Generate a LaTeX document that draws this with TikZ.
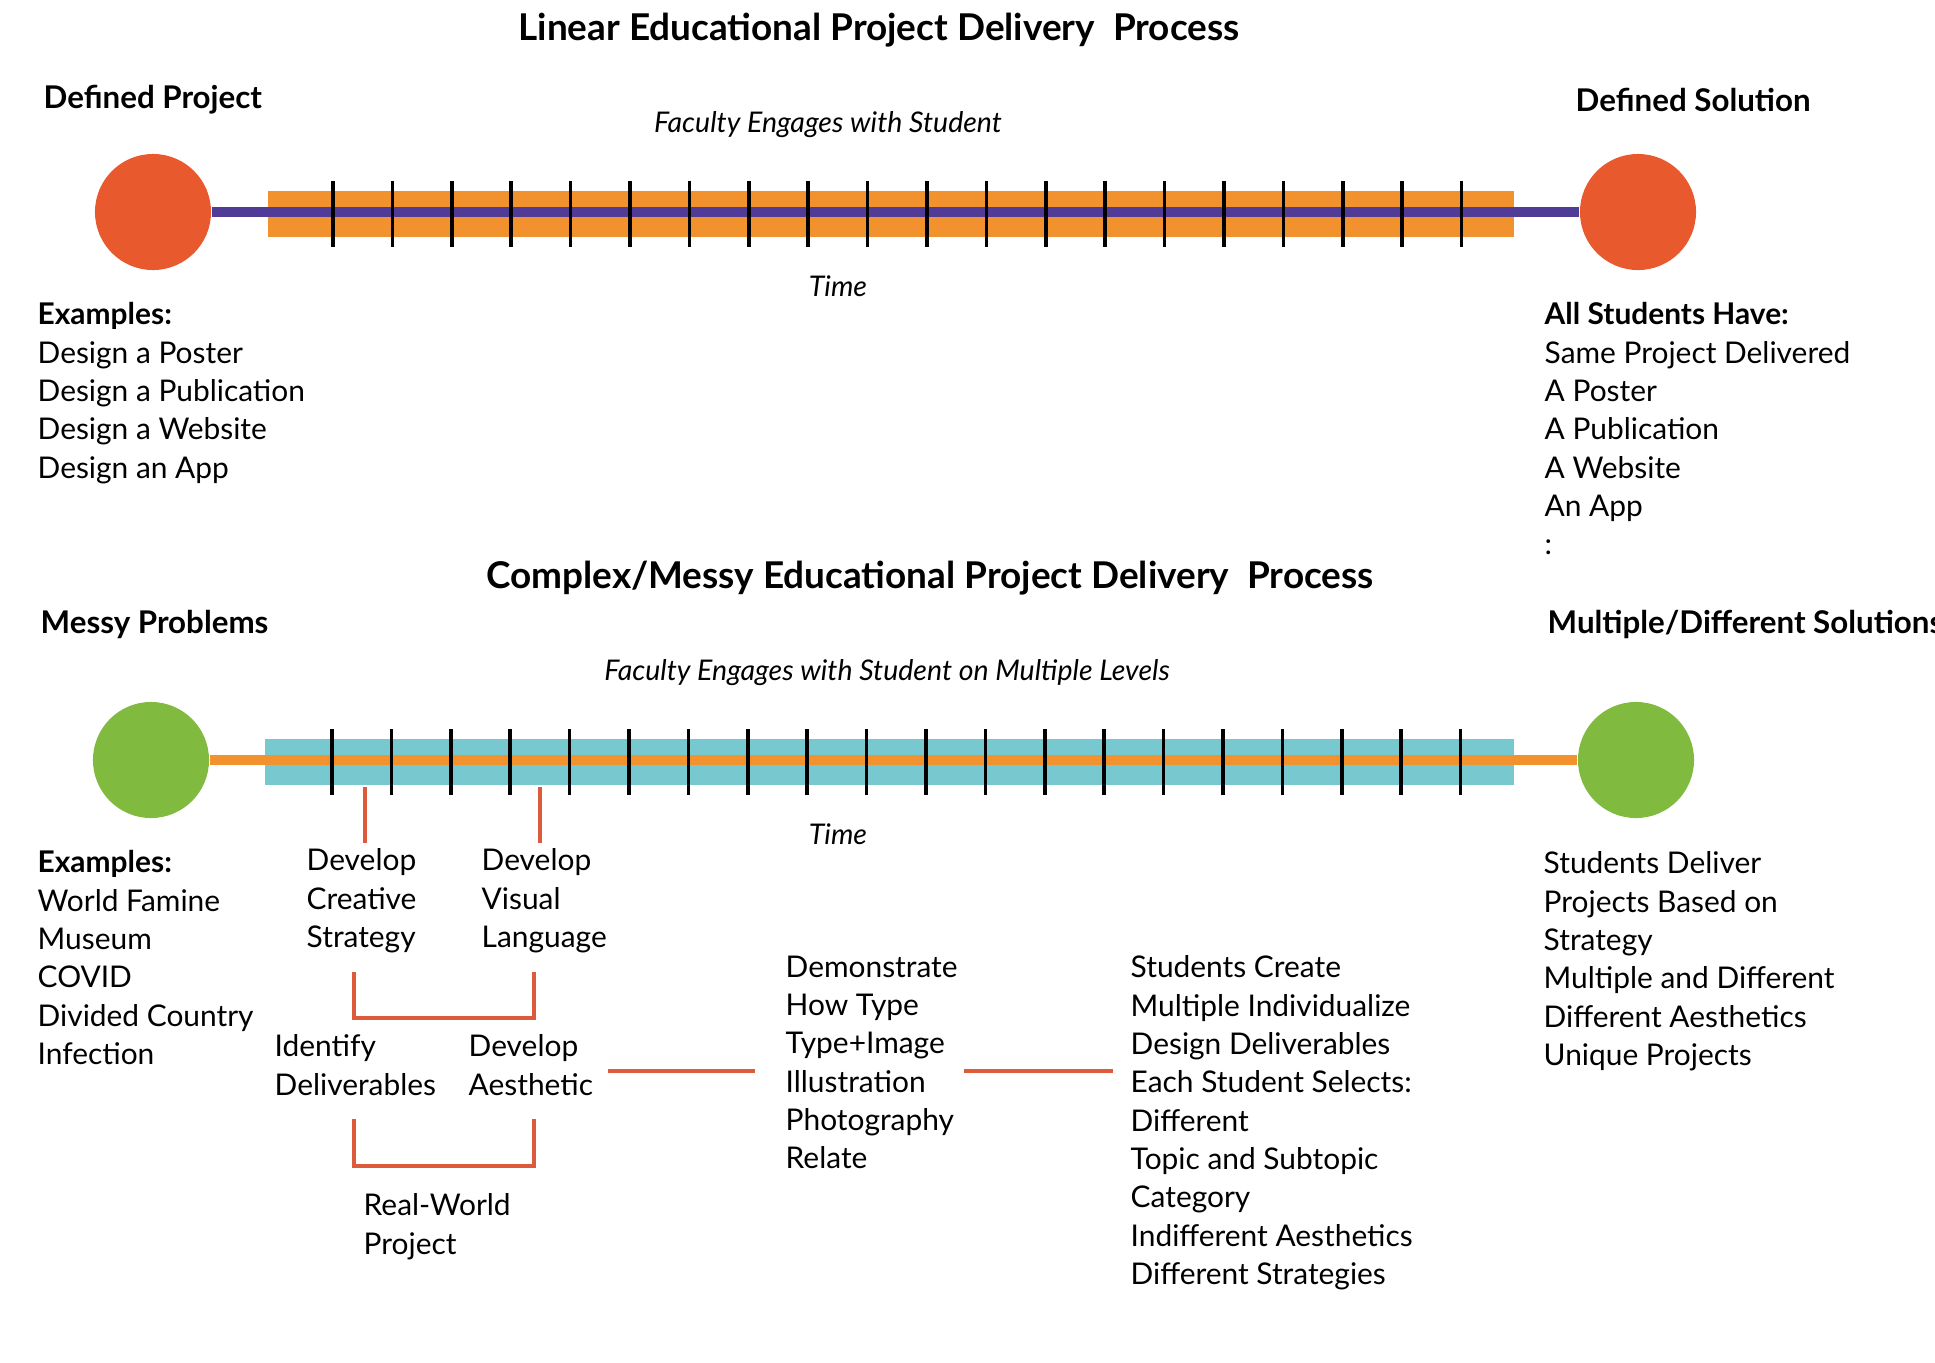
\documentclass[tikz,border=0pt]{standalone}
\usepackage{fontspec}
\setmainfont{Lato}
\usetikzlibrary{positioning}
\definecolor{dotred}{RGB}{232,90,45}
\definecolor{barorange}{RGB}{242,146,46}
\definecolor{linepurple}{RGB}{80,60,150}
\definecolor{dotgreen}{RGB}{128,186,62}
\definecolor{barteal}{RGB}{120,200,208}
\definecolor{linkred}{RGB}{222,90,60}
\tikzstyle{title} = [font=\fontsize{10.5}{12}\selectfont\bfseries, inner sep=0pt]
\tikzstyle{head} = [font=\fontsize{8.9}{10}\selectfont\bfseries, anchor=west, inner sep=0pt]
\tikzstyle{note} = [font=\fontsize{8.1}{10}\selectfont\itshape, inner sep=0pt]
\tikzstyle{block} = [font=\fontsize{8.5}{10.9}\selectfont, align=left, anchor=north west, inner sep=0pt]
\tikzstyle{dot} = [circle, minimum size=1.16cm, inner sep=0pt]
\tikzstyle{tick} = [line width=1pt, black]
\tikzstyle{link} = [line width=1pt, linkred]
\begin{document}
\begin{tikzpicture}[x=0.01cm, y=-0.01cm]
\useasboundingbox (0,0) rectangle (1935,1363);
% top process
\node (title_lin) [title] at (879,30) {Linear Educational Project Delivery \ Process};
\node (def_proj) [head] at (43,100) {Defined Project};
\node (def_sol) [head] at (1575,100) {Defined Solution};
\node (fac_lin) [note] at (828,125) {Faculty Engages with Student};
\fill[barorange] (268,191) rectangle (1514,237);
\node (dot_l1) [dot, fill=dotred] at (153,212) {};
\node (dot_r1) [dot, fill=dotred] at (1638,212) {};
\draw[linepurple, line width=3pt] (dot_l1) -- (dot_r1);
\foreach \i in {0,...,19}
  \draw[tick] (333+\i*59.4,181) -- (333+\i*59.4,247);
\node (time_lin) [note] at (838,286) {Time};
\node (ex_lin) [block] at (37,302) {\textbf{Examples:}\\Design a Poster\\Design a Publication\\Design a Website\\Design an App};
\node (all_stu) [block] at (1544,302) {\textbf{All Students Have:}\\Same Project Delivered\\A Poster\\A Publication\\A Website\\An App\\:};

% messy process
\node (title_mes) [title] at (930,578) {Complex/Messy Educational Project Delivery \ Process};
\node (messy) [head] at (40,624) {Messy Problems};
\node (multi) [head] at (1547,624) {Multiple/Different Solutions};
\node (fac_mes) [note] at (887,673) {Faculty Engages with Student on Multiple Levels};
\fill[barteal] (265,739) rectangle (1514,785);
\node (dot_l2) [dot, fill=dotgreen] at (151,760) {};
\node (dot_r2) [dot, fill=dotgreen] at (1636,760) {};
\draw[barorange, line width=3pt] (dot_l2) -- (dot_r2);
\foreach \i in {0,...,19}
  \draw[tick] (332+\i*59.4,729) -- (332+\i*59.4,795);
\node (time_mes) [note] at (838,834) {Time};
\node (ex_mes) [block] at (37,850) {\textbf{Examples:}\\World Famine\\Museum\\COVID\\Divided Country\\Infection};
\node (creative) [block] at (306,848) {Develop\\Creative\\Strategy};
\node (visual) [block] at (481,848) {Develop\\Visual\\Language};
\node (identify) [block] at (274,1034) {Identify\\Deliverables};
\node (aesthetic) [block] at (468,1034) {Develop\\Aesthetic};
\node (realworld) [block] at (363,1193) {Real-World\\Project};
\node (demo) [block] at (785,955) {Demonstrate\\How Type\\Type+Image\\Illustration\\Photography\\Relate};
\node (create) [block] at (1130,955) {Students Create\\Multiple Individualize\\Design Deliverables\\Each Student Selects:\\Different\\Topic and Subtopic\\Category\\Indifferent Aesthetics\\Different Strategies};
\node (deliver) [block] at (1543,851) {Students Deliver\\Projects Based on\\Strategy\\Multiple and Different\\Different Aesthetics\\Unique Projects};

\coordinate (tick_a) at (365,787);
\coordinate (tick_b) at (540,787);
\coordinate (stem_a) at (365,843);
\coordinate (stem_b) at (540,843);
\draw[link] (tick_a) -- (stem_a);
\draw[link] (tick_b) -- (stem_b);
\draw[link] (354,972) -- (354,1018) -- (534,1018) -- (534,972);
\draw[link] (354,1119) -- (354,1166) -- (534,1166) -- (534,1119);
\coordinate (join_a) at (608,1071);
\coordinate (join_b) at (755,1071);
\coordinate (join_c) at (964,1071);
\coordinate (join_d) at (1113,1071);
\draw[link] (join_a) -- (join_b);
\draw[link] (join_c) -- (join_d);
\end{tikzpicture}
\end{document}
